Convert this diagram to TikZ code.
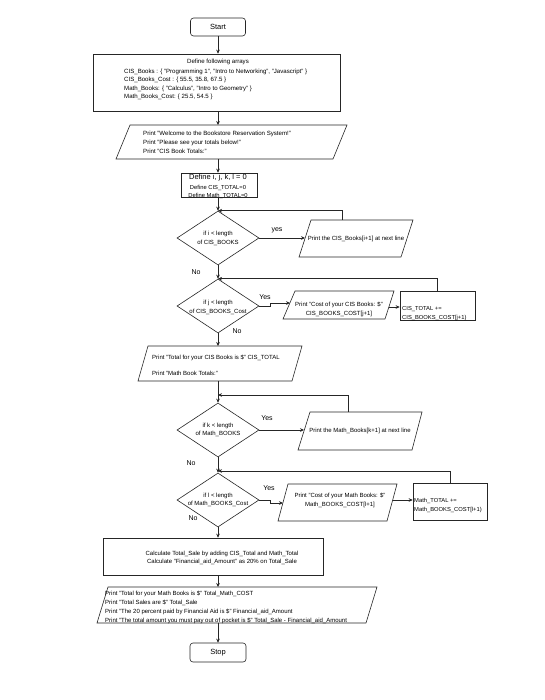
\documentclass[tikz,border=0pt]{standalone}
\usepackage{fontspec}
\setmainfont{Liberation Sans}
\usetikzlibrary{shapes.geometric,arrows.meta}
\begin{document}
\begin{tikzpicture}[x=1pt,y=-1pt,
  txt/.style={font=\fontsize{6.1}{7}\selectfont, inner sep=0pt},
  dtxt/.style={font=\fontsize{6}{7}\selectfont, inner sep=0pt},
  btxt/.style={font=\fontsize{5.8}{7}\selectfont, inner sep=0pt},
  lbl/.style={font=\fontsize{7}{8}\selectfont, inner sep=0pt},
  ttl/.style={font=\fontsize{7.5}{8}\selectfont, inner sep=0pt},
  ln/.style={line width=0.6pt, draw=black!85},
  box/.style={ln, draw, inner sep=0pt},
  dia/.style={ln, draw, diamond, inner sep=0pt, minimum width=82pt, minimum height=54pt},
  arr/.style={ln, -{Stealth[length=4pt,width=3.6pt]}},
]
\useasboundingbox (0,0) rectangle (544,700);
\fill[white] (0,0) rectangle (544,700);

% Start
\node[box, rounded corners=3pt, minimum width=55pt, minimum height=18pt] (start) at (218,27) {};
\node[ttl] (starttxt) at (218,27) {Start};

% Arrays
\node[box, minimum width=247pt, minimum height=57pt] (arr) at (216.5,82.5) {};
\node[txt] (a0) at (218,62) {Define following arrays};
\node[txt, anchor=west] (a1) at (124,71.5) {CIS\_Books :  \{ "Programming 1", "Intro to Networking", "Javascript" \}};
\node[txt, anchor=west] (a2) at (124,80) {CIS\_Books\_Cost : \{ 55.5, 35.8, 67.5 \}};
\node[txt, anchor=west] (a3) at (124,88.5) {Math\_Books: \{ "Calculus", "Intro to Geometry" \}};
\node[txt, anchor=west] (a4) at (124,97) {Math\_Books\_Cost: \{ 25.5, 54.5 \}};

% Parallelogram 1
\draw[ln] (130,125) -- (347,125) -- (333,159) -- (116,159) -- cycle;
\coordinate (p1t) at (218,125);
\coordinate (p1b) at (218,159);
\node[txt, anchor=west] (b1) at (143,134) {Print "Welcome to the Bookstore Reservation System!"};
\node[txt, anchor=west] (b2) at (143,142.5) {Print "Please see your totals below!"};
\node[txt, anchor=west] (b3) at (143,151) {Print "CIS Book Totals:"};

% Define box
\node[box, minimum width=76pt, minimum height=24pt] (def) at (219,185) {};
\node[ttl] (c1) at (218,178) {Define i, j, k, l = 0};
\node[btxt] (c2) at (218,187.5) {Define CIS\_TOTAL=0};
\node[btxt] (c3) at (218,195.5) {Define Math\_TOTAL=0};

% Diamond 1
\node[dia] (d1) at (218,238) {};
\node[dtxt] (d1a) at (218,233.5) {if i < length};
\node[dtxt] (d1b) at (218,243) {of CIS\_BOOKS};

% Parallelogram 2
\draw[ln] (311,220) -- (413,220) -- (401,257) -- (299,257) -- cycle;
\coordinate (p2w) at (305,238);
\coordinate (p2t) at (342,220);
\node[dtxt] (p2txt) at (356,238.5) {Print the CIS\_Books[i+1] at next line};

% Diamond 2
\node[dia] (d2) at (218,306) {};
\node[dtxt] (d2a) at (218,303) {if j < length};
\node[dtxt] (d2b) at (218,312) {of CIS\_BOOKS\_Cost};

% Parallelogram 3
\draw[ln] (295,291) -- (394,291) -- (385,319) -- (283,319) -- cycle;
\coordinate (p3w) at (290,303);
\coordinate (p3e) at (389,307);
\node[dtxt] (p3a) at (339,305) {Print "Cost of your CIS Books: \$"};
\node[dtxt] (p3b) at (339,313.5) {CIS\_BOOKS\_COST[j+1]};

% CIS total box
\node[box, minimum width=75pt, minimum height=29pt] (cis) at (437.5,305.5) {};
\coordinate (cisn) at (437,291);
\node[btxt, anchor=west] (cis1) at (402,309) {CIS\_TOTAL +=};
\node[btxt, anchor=west] (cis2) at (402,318) {CIS\_BOOKS\_COST[j+1)};

% Parallelogram 4
\draw[ln] (148,346) -- (302,346) -- (292,381) -- (138,381) -- cycle;
\coordinate (p4t) at (218,346);
\coordinate (p4b) at (218,381);
\node[dtxt, anchor=west] (e1) at (152,357.5) {Print "Total for your CIS Books is \$" CIS\_TOTAL};
\node[dtxt, anchor=west] (e2) at (152,373) {Print "Math Book Totals:"};

% Diamond 3
\node[dia] (d3) at (218,430) {};
\node[dtxt] (d3a) at (218,425.5) {if k < length};
\node[dtxt] (d3b) at (218,434) {of Math\_BOOKS};
\coordinate (j3) at (218,395);

% Parallelogram 5
\draw[ln] (310,412) -- (422,412) -- (412,450) -- (298,450) -- cycle;
\coordinate (p5w) at (304,430);
\coordinate (p5t) at (348,412);
\node[dtxt] (p5txt) at (360,431) {Print the Math\_Books[k+1] at next line};

% Diamond 4
\node[dia] (d4) at (218,500) {};
\node[dtxt] (d4a) at (218,495.5) {if l < length};
\node[dtxt] (d4b) at (218,504) {of Math\_BOOKS\_Cost};
\coordinate (j4) at (218,471);

% Parallelogram 6
\draw[ln] (288,484) -- (397,484) -- (387,521) -- (278,521) -- cycle;
\coordinate (p6w) at (283,503);
\coordinate (p6e) at (393,500);
\node[dtxt] (p6a) at (340,496) {Print "Cost of your Math Books: \$"};
\node[dtxt] (p6b) at (340,505) {Math\_BOOKS\_COST[l+1]};

% Math total box
\node[box, minimum width=74pt, minimum height=37pt] (mt) at (450,501.5) {};
\coordinate (mtn) at (450,483);
\node[btxt, anchor=west] (mt1) at (414,501) {Math\_TOTAL +=};
\node[btxt, anchor=west] (mt2) at (414,510) {Math\_BOOKS\_COST[l+1)};

% Calc box
\node[box, minimum width=220pt, minimum height=37pt] (calc) at (213,556.5) {};
\node[dtxt] (f1) at (222,554) {Calculate Total\_Sale by adding CIS\_Total and Math\_Total};
\node[dtxt] (f2) at (222,562) {Calculate "Financial\_aid\_Amount" as 20\% on Total\_Sale};

% Final parallelogram
\draw[ln] (108,587) -- (377,587) -- (366,623) -- (97,623) -- cycle;
\coordinate (p7t) at (218,587);
\coordinate (p7b) at (218,623);
\node[dtxt, anchor=west] (g1) at (105,594) {Print "Total for your Math Books is \$" Total\_Math\_COST};
\node[dtxt, anchor=west] (g2) at (105,603) {Print "Total Sales are \$" Total\_Sale};
\node[dtxt, anchor=west] (g3) at (105,612) {Print "The 20 percent paid by Financial Aid is \$" Financial\_aid\_Amount};
\node[dtxt, anchor=west] (g4) at (105,621) {Print "The total amount you must pay out of pocket is \$" Total\_Sale - Financial\_aid\_Amount};

% Stop
\node[box, rounded corners=3pt, minimum width=56pt, minimum height=19pt] (stop) at (218,652.5) {};
\node[ttl] (stoptxt) at (218,652.5) {Stop};

% Labels
\node[lbl] (yes1) at (277,230) {yes};
\node[lbl] (no1) at (196,272) {No};
\node[lbl] (yes2) at (265,297) {Yes};
\node[lbl] (no2) at (237,331) {No};
\node[lbl] (yes3) at (267,418) {Yes};
\node[lbl] (no3) at (191,463) {No};
\node[lbl] (yes4) at (269,488) {Yes};
\node[lbl] (no4) at (193,518) {No};

% Connectors
\draw[arr] (start.south) -- (start.south |- arr.north);
\draw[arr] (arr.south -| p1t) -- (p1t);
\draw[arr] (p1b) -- (p1b |- def.north);
\draw[arr] (def.south -| d1.north) -- (d1.north);
\draw[arr] (d1.east) -- (p2w);
\draw[arr] (p2t) |- (d1.north);
\draw[arr] (d1.south) -- (d2.north);
\draw[arr] (d2.east) -- ++(11,0) |- (p3w);
\draw[arr] (p3e) -- (p3e -| cis.west);
\draw[arr] (cisn) |- (d2.north);
\draw[arr] (d2.south) -- (p4t);
\draw[arr] (p4b) -- (d3.north);
\draw[arr] (d3.east) -- (p5w);
\draw[arr] (p5t) |- (j3);
\draw[arr] (d3.south) -- (d4.north);
\draw[arr] (d4.east) -- ++(11,0) |- (p6w);
\draw[arr] (p6e) -- (p6e -| mt.west);
\draw[arr] (mtn) |- (j4);
\draw[arr] (d4.south) -- (d4.south |- calc.north);
\draw[arr] (calc.south -| p7t) -- (p7t);
\draw[arr] (p7b) -- (stop.north);
\end{tikzpicture}
\end{document}
